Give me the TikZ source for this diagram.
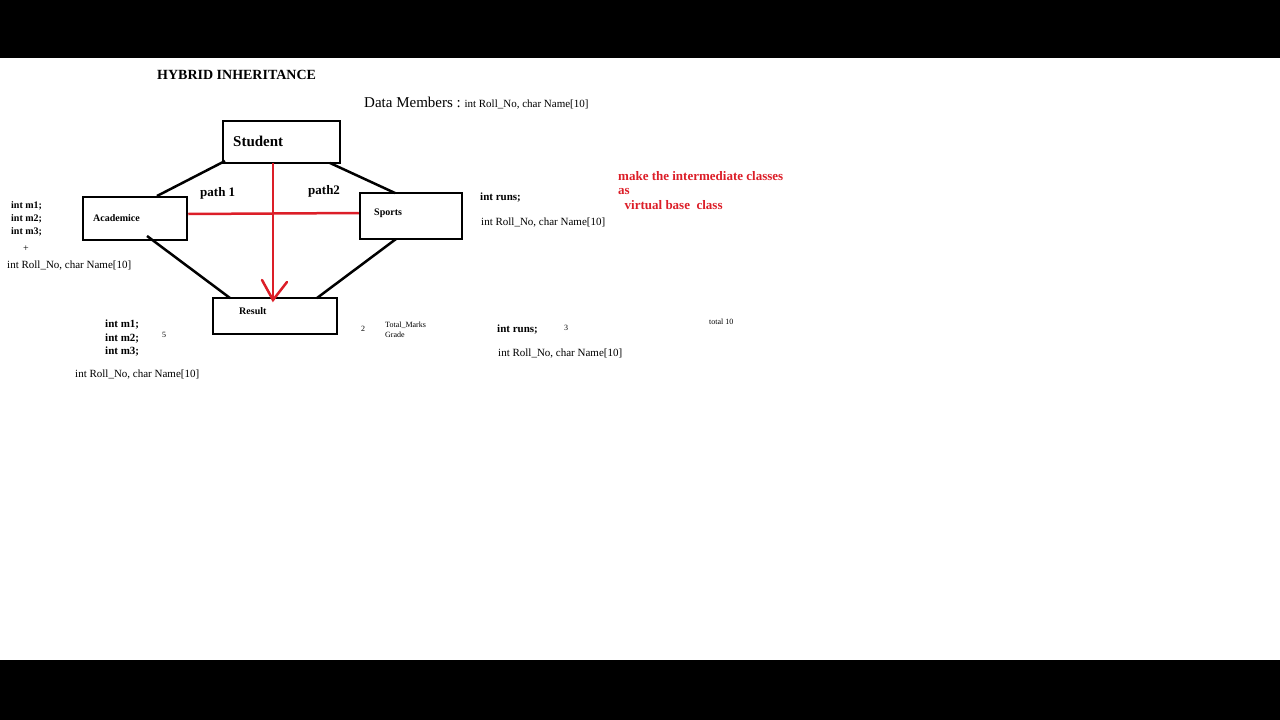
\documentclass[tikz,border=0pt]{standalone}
\usepackage{fontspec}
\setmainfont{Liberation Serif}
\usetikzlibrary{arrows.meta}
\definecolor{rd}{RGB}{220,30,40}
\begin{document}
\begin{tikzpicture}[x=1pt,y=-1pt,
  box/.style={draw,line width=2.5pt,minimum width=#1,inner sep=0pt},
  lbl/.style={anchor=west,font=\fontsize{11}{13}\selectfont,inner sep=0pt},
  blbl/.style={lbl,font=\fontsize{11}{13}\selectfont\bfseries},
  tiny/.style={lbl,font=\fontsize{8}{9.5}\selectfont},
  conn/.style={line width=2.5pt},
  rconn/.style={line width=2.5pt,draw=rd}]
\useasboundingbox (0,0) rectangle (1280,720);
\fill[black] (0,0) rectangle (1280,58);
\fill[black] (0,660) rectangle (1280,720);
% boxes
\node[box=117pt,minimum height=42pt] (st) at (281.5,142) {};
\node[box=104pt,minimum height=43pt] (ac) at (135,218.5) {};
\node[box=102pt,minimum height=46pt] (sp) at (411,216) {};
\node[box=124pt,minimum height=36pt] (re) at (275,316) {};
\node[anchor=west,font=\fontsize{15}{17}\selectfont\bfseries,inner sep=0pt] (stt) at (233,141) {Student};
\node[blbl,font=\fontsize{10}{12}\selectfont\bfseries] (act) at (93,218) {Academice};
\node[blbl,font=\fontsize{10}{12}\selectfont\bfseries] (spt) at (374,213) {Sports};
\node[blbl,font=\fontsize{10}{12}\selectfont\bfseries] (ret) at (239,311) {Result};
% connectors
\coordinate (s1) at (225,161);
\coordinate (a1) at (157,196);
\coordinate (s2) at (330,163);
\coordinate (p1) at (395,193);
\coordinate (a2) at (147,236);
\coordinate (r1) at (230,298);
\coordinate (p2) at (396,239);
\coordinate (r2) at (317,298);
\draw[conn] (s1) -- (a1);
\draw[conn] (s2) -- (p1);
\draw[conn] (a2) -- (r1);
\draw[conn] (p2) -- (r2);
\draw[rconn] (ac.east |- 0,214) -- (sp.west |- 0,213);
\coordinate (rt) at (273,300);
\draw[rconn] (273,163) -- (rt);
\draw[rconn,line cap=round] (262,280) -- (rt) -- (287,282);
% labels
\node[blbl,font=\fontsize{13}{15}\selectfont\bfseries] (p1l) at (200,193) {path 1};
\node[blbl,font=\fontsize{13}{15}\selectfont\bfseries] (p2l) at (308,191) {path2};
\node[blbl,font=\fontsize{14}{16}\selectfont\bfseries] (title) at (157,75) {HYBRID INHERITANCE};
\node[lbl] (dm) at (364,103) {{\fontsize{15}{17}\selectfont Data Members :} int Roll\_No, char Name[10]};
\node[blbl,font=\fontsize{10}{13}\selectfont\bfseries,align=left,anchor=north west] (am) at (11,201) {int m1;\\int m2;\\int m3;};
\node[lbl,font=\fontsize{10}{12}\selectfont] (plus) at (23,249) {+};
\node[lbl] (ar) at (7,266) {int Roll\_No, char Name[10]};
\node[blbl,font=\fontsize{11}{13}\selectfont\bfseries] (sr) at (480,198) {int runs;};
\node[lbl] (sn) at (481,223) {int Roll\_No, char Name[10]};
\node[blbl,font=\fontsize{13}{14.5}\selectfont\bfseries,text=rd,align=left,anchor=north west] (note) at (618,171) {make the intermediate classes\\as\\\ \ virtual base\ \ class};
\node[blbl,font=\fontsize{11}{13.5}\selectfont\bfseries,align=left,anchor=north west] (rm) at (105,320) {int m1;\\int m2;\\int m3;};
\node[tiny] (n5) at (162,335) {5};
\node[lbl] (rr) at (75,375) {int Roll\_No, char Name[10]};
\node[tiny] (n2) at (361,329) {2};
\node[tiny,align=left,anchor=north west] (tm) at (385,322) {Total\_Marks\\Grade};
\node[blbl] (rs) at (497,330) {int runs;};
\node[tiny] (n3) at (564,328) {3};
\node[lbl] (rn) at (498,354) {int Roll\_No, char Name[10]};
\node[tiny] (tot) at (709,322) {total 10};
\end{tikzpicture}
\end{document}
